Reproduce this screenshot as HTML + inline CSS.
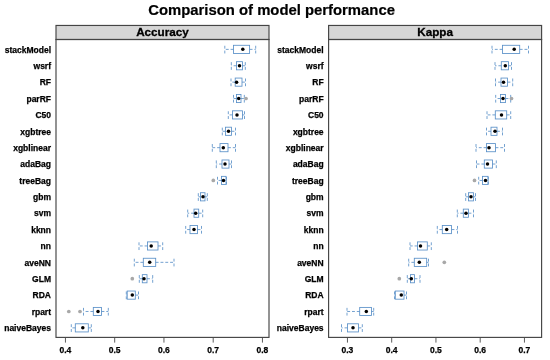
<!DOCTYPE html>
<html lang="en"><head><meta charset="utf-8"><title>Comparison of model performance</title>
<style>
html,body{margin:0;padding:0;background:#fff}
svg{display:block}
text{font-family:"Liberation Sans",Arial,Helvetica,sans-serif;font-weight:bold;fill:#000}
.ti{font-size:14.85px;stroke:#000;stroke-width:0.2px}
.st{font-size:11.7px;stroke:#000;stroke-width:0.3px}
.ax,.yl{font-size:8.5px;stroke:#000;stroke-width:0.25px}
</style></head><body>
<svg width="550" height="360" viewBox="0 0 550 360">
<rect width="550" height="360" fill="#fff"/>
<text x="271.6" y="15.3" text-anchor="middle" class="ti">Comparison of model performance</text>
<rect x="56.0" y="25.45" width="213.0" height="14.05" fill="#d6d6d6"/>
<rect x="233.5" y="45.29" width="16.10" height="8.15" fill="#fff" fill-opacity="0" stroke="#5a90c8" stroke-width="0.85"/>
<path d="M233.5 49.37H224.8M249.6 49.37H255.7M224.8 53.45V45.29M255.7 53.45V45.29" fill="none" stroke="#5a90c8" stroke-width="0.85" stroke-dasharray="2.9 1.9"/>
<circle cx="242.8" cy="49.37" r="1.75" fill="#000"/>
<rect x="236.5" y="61.68" width="6.00" height="8.15" fill="#fff" fill-opacity="0" stroke="#5a90c8" stroke-width="0.85"/>
<path d="M236.5 65.75H231.3M242.5 65.75H245.3M231.3 69.83V61.68M245.3 69.83V61.68" fill="none" stroke="#5a90c8" stroke-width="0.85" stroke-dasharray="2.9 1.9"/>
<circle cx="239.5" cy="65.75" r="1.75" fill="#000"/>
<rect x="235.2" y="78.06" width="6.80" height="8.15" fill="#fff" fill-opacity="0" stroke="#5a90c8" stroke-width="0.85"/>
<path d="M235.2 82.13H231.0M242.0 82.13H245.5M231.0 86.21V78.06M245.5 86.21V78.06" fill="none" stroke="#5a90c8" stroke-width="0.85" stroke-dasharray="2.9 1.9"/>
<circle cx="236.6" cy="82.13" r="1.75" fill="#000"/>
<rect x="236.5" y="94.44" width="4.50" height="8.15" fill="#fff" fill-opacity="0" stroke="#5a90c8" stroke-width="0.85"/>
<path d="M236.5 98.52H233.5M241.0 98.52H244.3M233.5 102.59V94.44M244.3 102.59V94.44" fill="none" stroke="#5a90c8" stroke-width="0.85" stroke-dasharray="2.9 1.9"/>
<circle cx="238.7" cy="98.52" r="1.75" fill="#000"/>
<circle cx="246.0" cy="98.52" r="1.85" fill="#a8a8a8"/>
<rect x="232.5" y="110.82" width="10.00" height="8.15" fill="#fff" fill-opacity="0" stroke="#5a90c8" stroke-width="0.85"/>
<path d="M232.5 114.90H228.3M242.5 114.90H244.5M228.3 118.97V110.82M244.5 118.97V110.82" fill="none" stroke="#5a90c8" stroke-width="0.85" stroke-dasharray="2.9 1.9"/>
<circle cx="237.0" cy="114.90" r="1.75" fill="#000"/>
<rect x="225.5" y="127.20" width="6.00" height="8.15" fill="#fff" fill-opacity="0" stroke="#5a90c8" stroke-width="0.85"/>
<path d="M225.5 131.28H222.3M231.5 131.28H235.5M222.3 135.35V127.20M235.5 135.35V127.20" fill="none" stroke="#5a90c8" stroke-width="0.85" stroke-dasharray="2.9 1.9"/>
<circle cx="228.5" cy="131.28" r="1.75" fill="#000"/>
<rect x="220.0" y="143.59" width="8.00" height="8.15" fill="#fff" fill-opacity="0" stroke="#5a90c8" stroke-width="0.85"/>
<path d="M220.0 147.66H212.3M228.0 147.66H235.5M212.3 151.74V143.59M235.5 151.74V143.59" fill="none" stroke="#5a90c8" stroke-width="0.85" stroke-dasharray="2.9 1.9"/>
<circle cx="223.3" cy="147.66" r="1.75" fill="#000"/>
<rect x="222.0" y="159.97" width="7.00" height="8.15" fill="#fff" fill-opacity="0" stroke="#5a90c8" stroke-width="0.85"/>
<path d="M222.0 164.04H216.3M229.0 164.04H231.5M216.3 168.12V159.97M231.5 168.12V159.97" fill="none" stroke="#5a90c8" stroke-width="0.85" stroke-dasharray="2.9 1.9"/>
<circle cx="225.0" cy="164.04" r="1.75" fill="#000"/>
<rect x="221.5" y="176.35" width="4.50" height="8.15" fill="#fff" fill-opacity="0" stroke="#5a90c8" stroke-width="0.85"/>
<path d="M221.5 180.43H217.5M226.0 180.43H226.5M217.5 184.50V176.35M226.5 184.50V176.35" fill="none" stroke="#5a90c8" stroke-width="0.85" stroke-dasharray="2.9 1.9"/>
<circle cx="223.5" cy="180.43" r="1.75" fill="#000"/>
<circle cx="213.3" cy="180.43" r="1.85" fill="#a8a8a8"/>
<rect x="200.5" y="192.73" width="4.50" height="8.15" fill="#fff" fill-opacity="0" stroke="#5a90c8" stroke-width="0.85"/>
<path d="M200.5 196.81H198.3M205.0 196.81H207.3M198.3 200.88V192.73M207.3 200.88V192.73" fill="none" stroke="#5a90c8" stroke-width="0.85" stroke-dasharray="2.9 1.9"/>
<circle cx="203.0" cy="196.81" r="1.75" fill="#000"/>
<rect x="194.0" y="209.12" width="4.70" height="8.15" fill="#fff" fill-opacity="0" stroke="#5a90c8" stroke-width="0.85"/>
<path d="M194.0 213.19H187.7M198.7 213.19H202.7M187.7 217.27V209.12M202.7 217.27V209.12" fill="none" stroke="#5a90c8" stroke-width="0.85" stroke-dasharray="2.9 1.9"/>
<circle cx="195.7" cy="213.19" r="1.75" fill="#000"/>
<rect x="190.0" y="225.50" width="7.50" height="8.15" fill="#fff" fill-opacity="0" stroke="#5a90c8" stroke-width="0.85"/>
<path d="M190.0 229.57H185.7M197.5 229.57H201.5M185.7 233.65V225.50M201.5 233.65V225.50" fill="none" stroke="#5a90c8" stroke-width="0.85" stroke-dasharray="2.9 1.9"/>
<circle cx="194.0" cy="229.57" r="1.75" fill="#000"/>
<rect x="147.5" y="241.88" width="10.50" height="8.15" fill="#fff" fill-opacity="0" stroke="#5a90c8" stroke-width="0.85"/>
<path d="M147.5 245.95H139.0M158.0 245.95H162.7M139.0 250.03V241.88M162.7 250.03V241.88" fill="none" stroke="#5a90c8" stroke-width="0.85" stroke-dasharray="2.9 1.9"/>
<circle cx="151.2" cy="245.95" r="1.75" fill="#000"/>
<rect x="143.3" y="258.26" width="12.40" height="8.15" fill="#fff" fill-opacity="0" stroke="#5a90c8" stroke-width="0.85"/>
<path d="M143.3 262.34H134.3M155.7 262.34H174.0M134.3 266.41V258.26M174.0 266.41V258.26" fill="none" stroke="#5a90c8" stroke-width="0.85" stroke-dasharray="2.9 1.9"/>
<circle cx="149.7" cy="262.34" r="1.75" fill="#000"/>
<rect x="142.3" y="274.64" width="4.70" height="8.15" fill="#fff" fill-opacity="0" stroke="#5a90c8" stroke-width="0.85"/>
<path d="M142.3 278.72H139.3M147.0 278.72H152.7M139.3 282.79V274.64M152.7 282.79V274.64" fill="none" stroke="#5a90c8" stroke-width="0.85" stroke-dasharray="2.9 1.9"/>
<circle cx="144.0" cy="278.72" r="1.75" fill="#000"/>
<circle cx="132.3" cy="278.72" r="1.85" fill="#a8a8a8"/>
<rect x="127.2" y="291.03" width="8.10" height="8.15" fill="#fff" fill-opacity="0" stroke="#5a90c8" stroke-width="0.85"/>
<path d="M127.2 295.10H126.3M135.3 295.10H138.5M126.3 299.18V291.03M138.5 299.18V291.03" fill="none" stroke="#5a90c8" stroke-width="0.85" stroke-dasharray="2.9 1.9"/>
<circle cx="132.3" cy="295.10" r="1.75" fill="#000"/>
<rect x="93.3" y="307.41" width="8.20" height="8.15" fill="#fff" fill-opacity="0" stroke="#5a90c8" stroke-width="0.85"/>
<path d="M93.3 311.48H83.5M101.5 311.48H108.3M83.5 315.56V307.41M108.3 315.56V307.41" fill="none" stroke="#5a90c8" stroke-width="0.85" stroke-dasharray="2.9 1.9"/>
<circle cx="98.0" cy="311.48" r="1.75" fill="#000"/>
<circle cx="68.8" cy="311.48" r="1.85" fill="#a8a8a8"/>
<circle cx="80.0" cy="311.48" r="1.85" fill="#a8a8a8"/>
<rect x="75.3" y="323.79" width="13.00" height="8.15" fill="#fff" fill-opacity="0" stroke="#5a90c8" stroke-width="0.85"/>
<path d="M75.3 327.86H71.3M88.3 327.86H91.3M71.3 331.94V323.79M91.3 331.94V323.79" fill="none" stroke="#5a90c8" stroke-width="0.85" stroke-dasharray="2.9 1.9"/>
<circle cx="82.8" cy="327.86" r="1.75" fill="#000"/>
<rect x="56.0" y="25.45" width="213.0" height="14.05" fill="none" stroke="#444" stroke-width="1.15"/>
<rect x="56.0" y="39.5" width="213.0" height="297.9" fill="none" stroke="#444" stroke-width="1.15"/>
<path d="M65.45 337.4V342.6" stroke="#4a4a4a" stroke-width="0.9"/>
<text x="65.45" y="353.3" text-anchor="middle" class="ax">0.4</text>
<path d="M114.7 337.4V342.6" stroke="#4a4a4a" stroke-width="0.9"/>
<text x="114.7" y="353.3" text-anchor="middle" class="ax">0.5</text>
<path d="M163.95 337.4V342.6" stroke="#4a4a4a" stroke-width="0.9"/>
<text x="163.95" y="353.3" text-anchor="middle" class="ax">0.6</text>
<path d="M213.2 337.4V342.6" stroke="#4a4a4a" stroke-width="0.9"/>
<text x="213.2" y="353.3" text-anchor="middle" class="ax">0.7</text>
<path d="M262.45 337.4V342.6" stroke="#4a4a4a" stroke-width="0.9"/>
<text x="262.45" y="353.3" text-anchor="middle" class="ax">0.8</text>
<text x="162.5" y="36.45" text-anchor="middle" class="st">Accuracy</text>
<text x="51.0" y="52.67" text-anchor="end" class="yl">stackModel</text>
<text x="51.0" y="69.05" text-anchor="end" class="yl">wsrf</text>
<text x="51.0" y="85.43" text-anchor="end" class="yl">RF</text>
<text x="51.0" y="101.82" text-anchor="end" class="yl">parRF</text>
<text x="51.0" y="118.20" text-anchor="end" class="yl">C50</text>
<text x="51.0" y="134.58" text-anchor="end" class="yl">xgbtree</text>
<text x="51.0" y="150.96" text-anchor="end" class="yl">xgblinear</text>
<text x="51.0" y="167.34" text-anchor="end" class="yl">adaBag</text>
<text x="51.0" y="183.73" text-anchor="end" class="yl">treeBag</text>
<text x="51.0" y="200.11" text-anchor="end" class="yl">gbm</text>
<text x="51.0" y="216.49" text-anchor="end" class="yl">svm</text>
<text x="51.0" y="232.87" text-anchor="end" class="yl">kknn</text>
<text x="51.0" y="249.25" text-anchor="end" class="yl">nn</text>
<text x="51.0" y="265.64" text-anchor="end" class="yl">aveNN</text>
<text x="51.0" y="282.02" text-anchor="end" class="yl">GLM</text>
<text x="51.0" y="298.40" text-anchor="end" class="yl">RDA</text>
<text x="51.0" y="314.78" text-anchor="end" class="yl">rpart</text>
<text x="51.0" y="331.16" text-anchor="end" class="yl">naiveBayes</text>
<rect x="328.6" y="25.45" width="213.0" height="14.05" fill="#d6d6d6"/>
<rect x="502.5" y="45.29" width="17.20" height="8.15" fill="#fff" fill-opacity="0" stroke="#5a90c8" stroke-width="0.85"/>
<path d="M502.5 49.37H492.0M519.7 49.37H528.5M492.0 53.45V45.29M528.5 53.45V45.29" fill="none" stroke="#5a90c8" stroke-width="0.85" stroke-dasharray="2.9 1.9"/>
<circle cx="514.2" cy="49.37" r="1.75" fill="#000"/>
<rect x="501.3" y="61.68" width="7.20" height="8.15" fill="#fff" fill-opacity="0" stroke="#5a90c8" stroke-width="0.85"/>
<path d="M501.3 65.75H495.0M508.5 65.75H511.5M495.0 69.83V61.68M511.5 69.83V61.68" fill="none" stroke="#5a90c8" stroke-width="0.85" stroke-dasharray="2.9 1.9"/>
<circle cx="505.3" cy="65.75" r="1.75" fill="#000"/>
<rect x="501.0" y="78.06" width="6.50" height="8.15" fill="#fff" fill-opacity="0" stroke="#5a90c8" stroke-width="0.85"/>
<path d="M501.0 82.13H495.5M507.5 82.13H512.7M495.5 86.21V78.06M512.7 86.21V78.06" fill="none" stroke="#5a90c8" stroke-width="0.85" stroke-dasharray="2.9 1.9"/>
<circle cx="503.5" cy="82.13" r="1.75" fill="#000"/>
<rect x="500.5" y="94.44" width="5.00" height="8.15" fill="#fff" fill-opacity="0" stroke="#5a90c8" stroke-width="0.85"/>
<path d="M500.5 98.52H495.7M505.5 98.52H510.7M495.7 102.59V94.44M510.7 102.59V94.44" fill="none" stroke="#5a90c8" stroke-width="0.85" stroke-dasharray="2.9 1.9"/>
<circle cx="503.0" cy="98.52" r="1.75" fill="#000"/>
<circle cx="511.5" cy="98.52" r="1.85" fill="#a8a8a8"/>
<rect x="495.3" y="110.82" width="11.40" height="8.15" fill="#fff" fill-opacity="0" stroke="#5a90c8" stroke-width="0.85"/>
<path d="M495.3 114.90H487.0M506.7 114.90H510.7M487.0 118.97V110.82M510.7 118.97V110.82" fill="none" stroke="#5a90c8" stroke-width="0.85" stroke-dasharray="2.9 1.9"/>
<circle cx="501.5" cy="114.90" r="1.75" fill="#000"/>
<rect x="491.0" y="127.20" width="6.00" height="8.15" fill="#fff" fill-opacity="0" stroke="#5a90c8" stroke-width="0.85"/>
<path d="M491.0 131.28H486.5M497.0 131.28H502.5M486.5 135.35V127.20M502.5 135.35V127.20" fill="none" stroke="#5a90c8" stroke-width="0.85" stroke-dasharray="2.9 1.9"/>
<circle cx="495.0" cy="131.28" r="1.75" fill="#000"/>
<rect x="486.5" y="143.59" width="9.00" height="8.15" fill="#fff" fill-opacity="0" stroke="#5a90c8" stroke-width="0.85"/>
<path d="M486.5 147.66H476.0M495.5 147.66H504.5M476.0 151.74V143.59M504.5 151.74V143.59" fill="none" stroke="#5a90c8" stroke-width="0.85" stroke-dasharray="2.9 1.9"/>
<circle cx="489.0" cy="147.66" r="1.75" fill="#000"/>
<rect x="484.3" y="159.97" width="8.20" height="8.15" fill="#fff" fill-opacity="0" stroke="#5a90c8" stroke-width="0.85"/>
<path d="M484.3 164.04H476.5M492.5 164.04H496.3M476.5 168.12V159.97M496.3 168.12V159.97" fill="none" stroke="#5a90c8" stroke-width="0.85" stroke-dasharray="2.9 1.9"/>
<circle cx="487.5" cy="164.04" r="1.75" fill="#000"/>
<rect x="482.5" y="176.35" width="5.50" height="8.15" fill="#fff" fill-opacity="0" stroke="#5a90c8" stroke-width="0.85"/>
<path d="M482.5 180.43H478.7M488.0 180.43H488.3M478.7 184.50V176.35M488.3 184.50V176.35" fill="none" stroke="#5a90c8" stroke-width="0.85" stroke-dasharray="2.9 1.9"/>
<circle cx="485.5" cy="180.43" r="1.75" fill="#000"/>
<circle cx="474.5" cy="180.43" r="1.85" fill="#a8a8a8"/>
<rect x="468.5" y="192.73" width="5.00" height="8.15" fill="#fff" fill-opacity="0" stroke="#5a90c8" stroke-width="0.85"/>
<path d="M468.5 196.81H465.7M473.5 196.81H475.5M465.7 200.88V192.73M475.5 200.88V192.73" fill="none" stroke="#5a90c8" stroke-width="0.85" stroke-dasharray="2.9 1.9"/>
<circle cx="471.0" cy="196.81" r="1.75" fill="#000"/>
<rect x="463.3" y="209.12" width="5.20" height="8.15" fill="#fff" fill-opacity="0" stroke="#5a90c8" stroke-width="0.85"/>
<path d="M463.3 213.19H457.3M468.5 213.19H473.5M457.3 217.27V209.12M473.5 217.27V209.12" fill="none" stroke="#5a90c8" stroke-width="0.85" stroke-dasharray="2.9 1.9"/>
<circle cx="466.0" cy="213.19" r="1.75" fill="#000"/>
<rect x="442.3" y="225.50" width="9.20" height="8.15" fill="#fff" fill-opacity="0" stroke="#5a90c8" stroke-width="0.85"/>
<path d="M442.3 229.57H437.3M451.5 229.57H457.5M437.3 233.65V225.50M457.5 233.65V225.50" fill="none" stroke="#5a90c8" stroke-width="0.85" stroke-dasharray="2.9 1.9"/>
<circle cx="446.7" cy="229.57" r="1.75" fill="#000"/>
<rect x="417.5" y="241.88" width="9.80" height="8.15" fill="#fff" fill-opacity="0" stroke="#5a90c8" stroke-width="0.85"/>
<path d="M417.5 245.95H410.0M427.3 245.95H431.3M410.0 250.03V241.88M431.3 250.03V241.88" fill="none" stroke="#5a90c8" stroke-width="0.85" stroke-dasharray="2.9 1.9"/>
<circle cx="420.5" cy="245.95" r="1.75" fill="#000"/>
<rect x="414.3" y="258.26" width="12.40" height="8.15" fill="#fff" fill-opacity="0" stroke="#5a90c8" stroke-width="0.85"/>
<path d="M414.3 262.34H408.7M426.7 262.34H428.5M408.7 266.41V258.26M428.5 266.41V258.26" fill="none" stroke="#5a90c8" stroke-width="0.85" stroke-dasharray="2.9 1.9"/>
<circle cx="419.3" cy="262.34" r="1.75" fill="#000"/>
<circle cx="444.3" cy="262.34" r="1.85" fill="#a8a8a8"/>
<rect x="410.5" y="274.64" width="4.00" height="8.15" fill="#fff" fill-opacity="0" stroke="#5a90c8" stroke-width="0.85"/>
<path d="M410.5 278.72H407.3M414.5 278.72H420.0M407.3 282.79V274.64M420.0 282.79V274.64" fill="none" stroke="#5a90c8" stroke-width="0.85" stroke-dasharray="2.9 1.9"/>
<circle cx="411.3" cy="278.72" r="1.75" fill="#000"/>
<circle cx="399.3" cy="278.72" r="1.85" fill="#a8a8a8"/>
<rect x="395.3" y="291.03" width="8.70" height="8.15" fill="#fff" fill-opacity="0" stroke="#5a90c8" stroke-width="0.85"/>
<path d="M395.3 295.10H394.5M404.0 295.10H406.5M394.5 299.18V291.03M406.5 299.18V291.03" fill="none" stroke="#5a90c8" stroke-width="0.85" stroke-dasharray="2.9 1.9"/>
<circle cx="401.3" cy="295.10" r="1.75" fill="#000"/>
<rect x="359.7" y="307.41" width="11.80" height="8.15" fill="#fff" fill-opacity="0" stroke="#5a90c8" stroke-width="0.85"/>
<path d="M359.7 311.48H347.0M371.5 311.48H373.7M347.0 315.56V307.41M373.7 315.56V307.41" fill="none" stroke="#5a90c8" stroke-width="0.85" stroke-dasharray="2.9 1.9"/>
<circle cx="366.3" cy="311.48" r="1.75" fill="#000"/>
<rect x="347.5" y="323.79" width="11.00" height="8.15" fill="#fff" fill-opacity="0" stroke="#5a90c8" stroke-width="0.85"/>
<path d="M347.5 327.86H341.5M358.5 327.86H362.3M341.5 331.94V323.79M362.3 331.94V323.79" fill="none" stroke="#5a90c8" stroke-width="0.85" stroke-dasharray="2.9 1.9"/>
<circle cx="353.0" cy="327.86" r="1.75" fill="#000"/>
<rect x="328.6" y="25.45" width="213.0" height="14.05" fill="none" stroke="#444" stroke-width="1.15"/>
<rect x="328.6" y="39.5" width="213.0" height="297.9" fill="none" stroke="#444" stroke-width="1.15"/>
<path d="M347.45 337.4V342.6" stroke="#4a4a4a" stroke-width="0.9"/>
<text x="347.45" y="353.3" text-anchor="middle" class="ax">0.3</text>
<path d="M391.7 337.4V342.6" stroke="#4a4a4a" stroke-width="0.9"/>
<text x="391.7" y="353.3" text-anchor="middle" class="ax">0.4</text>
<path d="M435.95 337.4V342.6" stroke="#4a4a4a" stroke-width="0.9"/>
<text x="435.95" y="353.3" text-anchor="middle" class="ax">0.5</text>
<path d="M480.2 337.4V342.6" stroke="#4a4a4a" stroke-width="0.9"/>
<text x="480.2" y="353.3" text-anchor="middle" class="ax">0.6</text>
<path d="M524.45 337.4V342.6" stroke="#4a4a4a" stroke-width="0.9"/>
<text x="524.45" y="353.3" text-anchor="middle" class="ax">0.7</text>
<text x="435.1" y="36.45" text-anchor="middle" class="st">Kappa</text>
<text x="323.6" y="52.67" text-anchor="end" class="yl">stackModel</text>
<text x="323.6" y="69.05" text-anchor="end" class="yl">wsrf</text>
<text x="323.6" y="85.43" text-anchor="end" class="yl">RF</text>
<text x="323.6" y="101.82" text-anchor="end" class="yl">parRF</text>
<text x="323.6" y="118.20" text-anchor="end" class="yl">C50</text>
<text x="323.6" y="134.58" text-anchor="end" class="yl">xgbtree</text>
<text x="323.6" y="150.96" text-anchor="end" class="yl">xgblinear</text>
<text x="323.6" y="167.34" text-anchor="end" class="yl">adaBag</text>
<text x="323.6" y="183.73" text-anchor="end" class="yl">treeBag</text>
<text x="323.6" y="200.11" text-anchor="end" class="yl">gbm</text>
<text x="323.6" y="216.49" text-anchor="end" class="yl">svm</text>
<text x="323.6" y="232.87" text-anchor="end" class="yl">kknn</text>
<text x="323.6" y="249.25" text-anchor="end" class="yl">nn</text>
<text x="323.6" y="265.64" text-anchor="end" class="yl">aveNN</text>
<text x="323.6" y="282.02" text-anchor="end" class="yl">GLM</text>
<text x="323.6" y="298.40" text-anchor="end" class="yl">RDA</text>
<text x="323.6" y="314.78" text-anchor="end" class="yl">rpart</text>
<text x="323.6" y="331.16" text-anchor="end" class="yl">naiveBayes</text>
</svg>
</body></html>
